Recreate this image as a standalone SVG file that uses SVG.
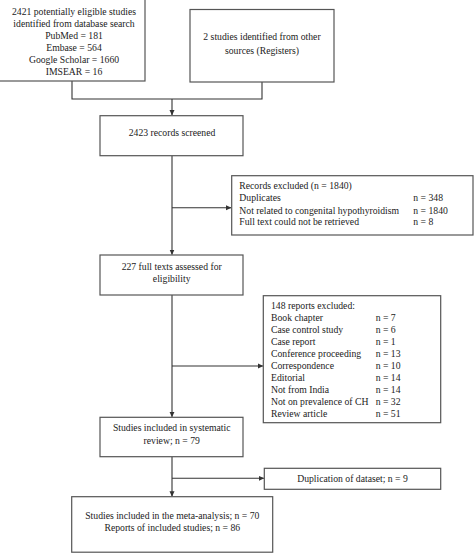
<svg xmlns="http://www.w3.org/2000/svg" width="474" height="553" viewBox="0 0 474 553">
<style>
.box{fill:#fff;stroke:#555;stroke-width:1.2}
.ln{fill:none;stroke:#333;stroke-width:1.1}
text{font-family:"Liberation Serif","Times New Roman",serif;font-size:9.7px;fill:#222}
.c{text-anchor:middle}
</style>
<defs>
<marker id="ah" markerWidth="6" markerHeight="6" refX="5" refY="3" orient="auto" markerUnits="userSpaceOnUse">
<path d="M0,0.5 L5.5,3 L0,5.5 Z" fill="#333"/>
</marker>
</defs>
<rect width="474" height="553" fill="#fff"/>
<g id="connectors">
<path class="ln" d="M72,81 V99 H262 V82"/>
<path class="ln" d="M172,99 V115" marker-end="url(#ah)"/>
<path class="ln" d="M172,155.7 V254.5" marker-end="url(#ah)"/>
<path class="ln" d="M172,207.7 H231" marker-end="url(#ah)"/>
<path class="ln" d="M172,295 V416.8" marker-end="url(#ah)"/>
<path class="ln" d="M172,366 H262.8" marker-end="url(#ah)"/>
<path class="ln" d="M172,456.7 V496.2" marker-end="url(#ah)"/>
<path class="ln" d="M172,478.3 H263.8" marker-end="url(#ah)"/>
</g>
<g id="n1">
<rect class="box" x="-1" y="-1" width="146" height="82"/>
<text class="c" x="74" y="14.5">2421 potentially eligible studies</text>
<text class="c" x="74" y="26.5">identified from database search</text>
<text class="c" x="74" y="38.5">PubMed = 181</text>
<text class="c" x="74" y="50.5">Embase = 564</text>
<text class="c" x="74" y="62.5">Google Scholar = 1660</text>
<text class="c" x="74" y="74.5">IMSEAR = 16</text>
</g>
<g id="n2">
<rect class="box" x="190" y="9.5" width="144" height="72.5"/>
<text class="c" x="262" y="39.5">2 studies identified from other</text>
<text class="c" x="262" y="53.5">sources (Registers)</text>
</g>
<g id="n3">
<rect class="box" x="100" y="115.7" width="143" height="40"/>
<text class="c" x="172" y="135.5">2423 records screened</text>
</g>
<g id="n4">
<rect class="box" x="231.7" y="175.7" width="241.3" height="59.3"/>
<text x="239.3" y="189.2">Records excluded (n = 1840)</text>
<text x="239.3" y="201.2">Duplicates</text>
<text x="413.3" y="201.2">n = 348</text>
<text x="239.3" y="213.5">Not related to congenital hypothyroidism</text>
<text x="413.3" y="213.5">n = 1840</text>
<text x="239.3" y="225.2">Full text could not be retrieved</text>
<text x="413.3" y="225.2">n = 8</text>
</g>
<g id="n5">
<rect class="box" x="100" y="255" width="143" height="40"/>
<text class="c" x="171.7" y="269.5">227 full texts assessed for</text>
<text class="c" x="171.7" y="281.8">eligibility</text>
</g>
<g id="n6">
<rect class="box" x="263.3" y="295.7" width="177.4" height="127"/>
<text x="271" y="309.2">148 reports excluded:</text>
<text x="271" y="321.2">Book chapter</text><text x="375.7" y="321.2">n = 7</text>
<text x="271" y="333.4">Case control study</text><text x="375.7" y="333.4">n = 6</text>
<text x="271" y="345.4">Case report</text><text x="375.7" y="345.4">n = 1</text>
<text x="271" y="357.4">Conference proceeding</text><text x="375.7" y="357.4">n = 13</text>
<text x="271" y="369.4">Correspondence</text><text x="375.7" y="369.4">n = 10</text>
<text x="271" y="381.4">Editorial</text><text x="375.7" y="381.4">n = 14</text>
<text x="271" y="393.4">Not from India</text><text x="375.7" y="393.4">n = 14</text>
<text x="271" y="405.4">Not on prevalence of CH</text><text x="375.7" y="405.4">n = 32</text>
<text x="271" y="417.4">Review article</text><text x="375.7" y="417.4">n = 51</text>
</g>
<g id="n7">
<rect class="box" x="100" y="417.3" width="143" height="39.4"/>
<text class="c" x="171.7" y="431.2">Studies included in systematic</text>
<text class="c" x="171.7" y="443.5">review; n = 79</text>
</g>
<g id="n8">
<rect class="box" x="264.3" y="468.3" width="176.4" height="21"/>
<text class="c" x="352.5" y="481.6">Duplication of dataset; n = 9</text>
</g>
<g id="n9">
<rect class="box" x="71.7" y="496.7" width="201" height="55.5"/>
<text class="c" x="172.3" y="518.5">Studies included in the meta-analysis; n = 70</text>
<text class="c" x="172.3" y="530.8">Reports of included studies; n = 86</text>
</g>
</svg>
